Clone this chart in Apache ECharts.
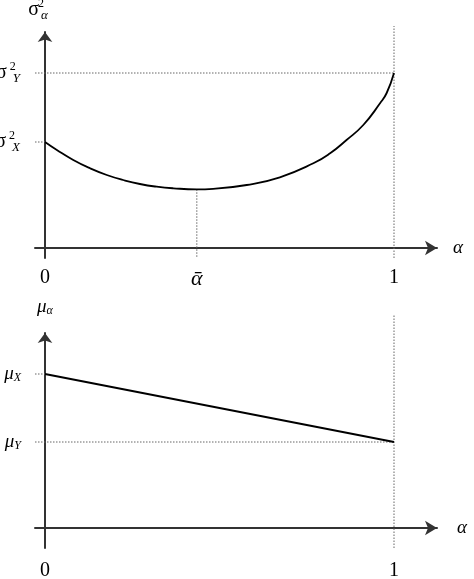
<!DOCTYPE html>
<html>
<head>
<meta charset="utf-8">
<script src="https://cdn.jsdelivr.net/npm/echarts@6.0.0/dist/echarts.min.js"></script>
<style>
html, body { margin: 0; padding: 0; background: #fff; }
#main { width: 474px; height: 579px; }
</style>
</head>
<body>
<div id="main"></div>
<script>
// top panel: portfolio variance against alpha
const varAlpha  = [0, 0.034, 0.081, 0.129, 0.177, 0.224, 0.272, 0.320, 0.368, 0.435, 0.482, 0.578, 0.673, 0.769, 0.817, 0.864, 0.912, 0.960, 0.979, 1];
const varValues = [106, 98, 88, 79.7, 73, 68, 64, 61.3, 59.7, 58.7, 59.2, 63, 70.7, 84.7, 94.7, 108, 123, 144.7, 155, 175];
const sigmaX2 = 106;
const sigmaY2 = 175;
const alphaBar = 0.435;
const varMin = 58.7;

// bottom panel: portfolio mean against alpha
const meanAlpha  = [0, 1];
const meanValues = [154, 86];
const muX = 154;
const muY = 86;

// ticks and axis ranges
const xTicksTop = [0, alphaBar, 1];
const xLabelsTop = ['0', '{ab|ᾱ}', '1'];
const xTicksBottom = [0, 1];
const xLabelsBottom = ['0', '1'];
const yTicksTop = [sigmaX2, sigmaY2];
const yLabelsTop = ['{s|σ}{p|2}{bx|X}', '{s|σ}{p|2}{bx|Y}'];
const yTicksBottom = [muY, muX];
const yLabelsBottom = ['{m|μ}{mb|Y}', '{m|μ}{mb|X}'];
const xMin = -10 / 349, xMax = 392 / 349;
const yMinTop = -10, yMaxTop = 216, guideTopTop = 222;
const yMinBot = -20, yMaxBot = 195, guideTopBot = 213;

const SERIF = '"Liberation Serif", "DejaVu Serif", serif';
const AX = '#333';
const DOT = '#666';

const rich = {
    s:  { fontFamily: SERIF, fontSize: 20, color: '#000', lineHeight: 24, padding: [0, 6, 0, 0] },
    sn: { fontFamily: SERIF, fontSize: 20, color: '#000', lineHeight: 24, padding: [0, 2, 0, 0] },
    p:  { fontFamily: SERIF, fontSize: 12, color: '#000', width: 0, align: 'left', verticalAlign: 'top', lineHeight: 12 },
    bx: { fontFamily: SERIF, fontSize: 13, fontStyle: 'italic', color: '#000', verticalAlign: 'bottom', lineHeight: 13 },
    m:  { fontFamily: SERIF, fontSize: 19, fontStyle: 'italic', color: '#000', lineHeight: 20 },
    mb: { fontFamily: SERIF, fontSize: 12, fontStyle: 'italic', color: '#000', verticalAlign: 'bottom', lineHeight: 12 },
    ab: { fontFamily: SERIF, fontSize: 22, fontStyle: 'italic', color: '#000' }
};

function xAxisOf(gridIndex, ticks, labels, margin, nameGap) {
    return {
        type: 'value', gridIndex: gridIndex, min: xMin, max: xMax,
        name: 'α', nameLocation: 'end', nameGap: nameGap,
        nameTextStyle: { fontFamily: SERIF, fontSize: 19, fontStyle: 'italic', color: '#000', verticalAlign: 'middle' },
        axisLine: { onZero: true, symbol: ['none', 'arrow'], symbolSize: [11, 12], lineStyle: { color: AX, width: 2 } },
        axisTick: { show: false },
        splitLine: { show: false },
        axisLabel: {
            customValues: ticks, margin: margin,
            fontFamily: SERIF, fontSize: 20, color: '#000', rich: rich,
            formatter: v => labels[ticks.indexOf(v)]
        }
    };
}

function yAxisOf(gridIndex, min, max, ticks, labels, name, nameGap, margin, namePad) {
    return {
        type: 'value', gridIndex: gridIndex, min: min, max: max,
        name: name, nameLocation: 'end', nameGap: nameGap,
        nameTextStyle: { rich: rich, padding: [0, namePad, 0, 0] },
        axisLine: { onZero: true, symbol: ['none', 'arrow'], symbolSize: [11, 10], lineStyle: { color: AX, width: 2 } },
        axisTick: { show: false },
        splitLine: { show: false },
        axisLabel: {
            customValues: ticks, margin: margin, rich: rich,
            formatter: v => labels[ticks.indexOf(v)]
        }
    };
}

function guide(xi, data) {
    return {
        type: 'line', xAxisIndex: xi, yAxisIndex: xi, data: data,
        symbol: 'none', clip: false, silent: true, z: 1,
        lineStyle: { color: DOT, width: 1, type: [1.5, 1.5] }
    };
}

const option = {
    animation: false,
    backgroundColor: '#fff',
    grid: [
        { left: 35, right: 37, top: 32, bottom: 321, outerBoundsMode: 'none' },
        { left: 35, right: 37, top: 333, bottom: 31, outerBoundsMode: 'none' }
    ],
    xAxis: [
        xAxisOf(0, xTicksTop, xLabelsTop, 10, 16),
        xAxisOf(1, xTicksBottom, xLabelsBottom, 13, 20)
    ],
    yAxis: [
        yAxisOf(0, yMinTop, yMaxTop, yTicksTop, yLabelsTop, '{sn|σ}{p|2}{bx|α}', 10, 15, 14),
        yAxisOf(1, yMinBot, yMaxBot, yTicksBottom, yLabelsBottom, '{m|μ}{mb|α}', 16, 14, 0)
    ],
    series: [
        guide(0, [[xMin, sigmaY2], [1, sigmaY2]]),
        guide(0, [[xMin, sigmaX2], [0, sigmaX2]]),
        guide(0, [[1, yMinTop], [1, guideTopTop]]),
        guide(0, [[alphaBar, varMin], [alphaBar, yMinTop]]),
        guide(1, [[xMin, muY], [1, muY]]),
        guide(1, [[xMin, muX], [0, muX]]),
        guide(1, [[1, yMinBot], [1, guideTopBot]]),
        {
            type: 'line', xAxisIndex: 0, yAxisIndex: 0, smooth: true, symbol: 'none', z: 3,
            data: varAlpha.map((a, i) => [a, varValues[i]]),
            lineStyle: { color: '#000', width: 1.8 }
        },
        {
            type: 'line', xAxisIndex: 1, yAxisIndex: 1, symbol: 'none', z: 3,
            data: meanAlpha.map((a, i) => [a, meanValues[i]]),
            lineStyle: { color: '#000', width: 1.8 }
        }
    ]
};

const chart = echarts.init(document.getElementById('main'));
chart.setOption(option);
</script>
</body>
</html>
